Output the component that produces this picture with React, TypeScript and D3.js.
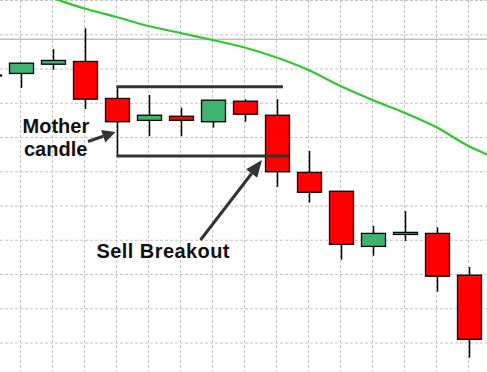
import React from "react";
import * as d3 from "d3";

// OHLC candles, oldest first (index -1 is the partly hidden bar at the left edge)
const candleIndex = [-1, 0, 1, 2, 3, 4, 5, 6, 7, 8, 9, 10, 11, 12, 13, 14];
const opens = [1.32825, 1.3287, 1.3314, 1.3322, 1.3214, 1.315, 1.3162, 1.3146, 1.3206, 1.3165, 1.2998, 1.2943, 1.2782, 1.2817, 1.282, 1.2698];
const highs = [1.3309, 1.3317, 1.3358, 1.3419, 1.3248, 1.3224, 1.3187, 1.3209, 1.3212, 1.3212, 1.3061, 1.2943, 1.2842, 1.2885, 1.2838, 1.2722];
const lows = [1.3262, 1.3245, 1.3298, 1.3183, 1.3046, 1.3104, 1.3104, 1.3129, 1.3146, 1.2956, 1.291, 1.2743, 1.2755, 1.2798, 1.265, 1.2457];
const closes = [1.3281, 1.3317, 1.3325, 1.3212, 1.3146, 1.3165, 1.315, 1.3209, 1.3168, 1.3, 1.294, 1.2788, 1.282, 1.2823, 1.2695, 1.2511];

// Moving average, one point per bar (last one is just past the right edge)
const maIndex = [-1, 0, 1, 2, 3, 4, 5, 6, 7, 8, 9, 10, 11, 12, 13, 14, 15];
const maValues = [1.35657, 1.35365, 1.35067, 1.34766, 1.34518, 1.34255, 1.34051, 1.33847, 1.33628, 1.33336, 1.32971, 1.32504, 1.32095, 1.31724, 1.31298, 1.30752, 1.30343];

// Price grid levels and the last price line
const priceGrid = [1.35, 1.34, 1.33, 1.32, 1.31, 1.3, 1.29, 1.28, 1.27, 1.26, 1.25, 1.24];
const gridIndex = [-1, 0, 1, 2, 3, 4, 5, 6, 7, 8, 9, 10, 11, 12, 13, 14, 15];
const lastPrice = 1.33867;

// Range of the mother candle (bar 3) and where the range lines stop
const motherIndex = 3;
const upperLineEnd = 8.2;
const lowerLineEnd = 8.4;

const labels = { mother: ["Mother", "candle"], breakout: "Sell Breakout" };

const W = 487;
const H = 372;

export default function App() {
  const x = d3.scaleLinear().domain([0, 14]).range([20.5, 468.5]);
  const y = d3.scaleLinear().domain([1.35, 1.34]).range([0.5, 34.75]);

  const bodyW = 23;
  const up = "#3cb371";
  const down = "#ff0000";
  const ink = "#333333";

  const ma = d3
    .line<number>()
    .x((_, i) => x(maIndex[i]))
    .y((d) => y(d))
    .curve(d3.curveMonotoneX)(maValues) as string;

  const motherHigh = highs[candleIndex.indexOf(motherIndex)];
  const motherLow = lows[candleIndex.indexOf(motherIndex)];

  const arrow = (x1: number, y1: number, x2: number, y2: number, len: number, half: number) => {
    const a = Math.atan2(y2 - y1, x2 - x1);
    const bx = x2 - len * Math.cos(a);
    const by = y2 - len * Math.sin(a);
    const px = -Math.sin(a) * half;
    const py = Math.cos(a) * half;
    return (
      <g>
        <line x1={x1} y1={y1} x2={bx} y2={by} stroke={ink} strokeWidth={3} />
        <polygon points={`${x2},${y2} ${bx + px},${by + py} ${bx - px},${by - py}`} fill={ink} />
      </g>
    );
  };

  return (
    <svg
      width={W}
      height={H}
      style={{ position: "absolute", left: 0, top: 0, background: "#fff" }}
      fontFamily="'Liberation Sans', Arial, sans-serif"
    >
      <rect width={W} height={H} fill="#fff" />
      {/* grid */}
      <g stroke="#c4c4c4" strokeWidth={1} strokeDasharray="3,2">
        {gridIndex.map((i) => (
          <line key={"v" + i} x1={x(i)} x2={x(i)} y1={0} y2={H} />
        ))}
        {priceGrid.map((p) => (
          <line key={"h" + p} x1={0} x2={W} y1={y(p)} y2={y(p)} />
        ))}
      </g>
      <line x1={0} x2={W} y1={y(lastPrice)} y2={y(lastPrice)} stroke="#c0c0c0" strokeWidth={1.5} />

      {/* moving average */}
      <path d={ma} fill="none" stroke="#2ec82e" strokeWidth={2.2} />

      {/* candles */}
      {candleIndex.map((i, k) => {
        const cx = Math.round(x(i)) + 0.5;
        const o = opens[k];
        const c = closes[k];
        const top = y(Math.max(o, c));
        const bot = y(Math.min(o, c));
        return (
          <g key={i}>
            <line x1={cx} x2={cx} y1={y(highs[k])} y2={y(lows[k])} stroke="#000" strokeWidth={1.5} />
            <rect
              x={cx - bodyW / 2 - 0.5}
              y={top}
              width={bodyW + 1}
              height={Math.max(bot - top, 1)}
              fill={c >= o ? up : down}
              stroke="#000"
              strokeWidth={1.3}
            />
          </g>
        );
      })}

      {/* mother candle range */}
      <line x1={x(motherIndex)} x2={x(upperLineEnd)} y1={y(motherHigh)} y2={y(motherHigh)} stroke={ink} strokeWidth={3} />
      <line x1={x(motherIndex)} x2={x(lowerLineEnd)} y1={y(motherLow)} y2={y(motherLow)} stroke={ink} strokeWidth={3} />

      {/* annotations */}
      {arrow(88, 141.5, 115.5, 132, 13, 6.5)}
      {arrow(200.5, 240, 262, 160, 17, 7)}
      <g fontSize={20} fontWeight="bold" fill="#111">
        <text x={22.5} y={132.5}>{labels.mother[0]}</text>
        <text x={24} y={156}>{labels.mother[1]}</text>
        <text x={96.5} y={258} textLength={133}>{labels.breakout}</text>
      </g>
    </svg>
  );
}
